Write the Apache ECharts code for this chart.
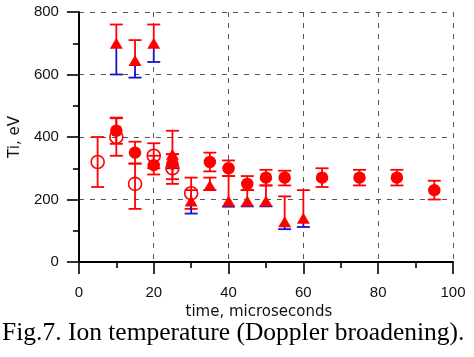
<!DOCTYPE html>
<html><head><meta charset="utf-8">
<script src="https://cdn.jsdelivr.net/npm/echarts@6/dist/echarts.min.js"></script>
<style>html,body{margin:0;padding:0;background:#fff}#c{width:474px;height:357px}</style>
</head><body><div id="c"></div>
<script>
// x-axis / y-axis ticks
const xTicks = [0, 20, 40, 60, 80, 100];
const yTicks = [0, 200, 400, 600, 800];

// open circles
const openX = [5, 10, 15, 20, 25, 30];
const openY = [320, 400, 250, 340, 300, 220];
const openLow = [240, 340, 170, 300, 250, 170];
const openHigh = [400, 460, 315, 380, 345, 270];

// filled circles
const fillX = [10, 15, 20, 25, 35, 40, 45, 50, 55, 65, 75, 85, 95];
const fillY = [420, 350, 310, 315, 320, 300, 250, 270, 270, 270, 270, 270, 230];
const fillLow = [378, 315, 280, 265, 290, 275, 230, 245, 245, 240, 245, 245, 200];
const fillHigh = [462, 385, 340, 345, 350, 325, 275, 295, 292, 300, 295, 295, 260];

// filled triangles (red upper bar, blue lower bar)
const triX = [10, 15, 20, 25, 30, 35, 40, 45, 50, 55, 60];
const triY = [700, 645, 700, 345, 195, 245, 195, 195, 195, 129, 140];
const triLow = [600, 590, 640, 300, 155, 230, 177, 178, 178, 105, 112];
const triHigh = [760, 710, 760, 420, 230, 270, 275, 230, 245, 210, 230];

const RED = '#ff0000', BLUE = '#1414c8';

function errBar(xs, lows, highs, color, capLow, capHigh, z) {
  return {
    type: 'custom', z: z, silent: true,
    data: xs.map((x, i) => [x, lows[i], highs[i]]),
    encode: { x: 0, y: [1, 2] },
    renderItem(params, api) {
      const x = api.value(0);
      const lo = api.coord([x, api.value(1)]);
      const hi = api.coord([x, api.value(2)]);
      const hw = 6.5;
      const style = { stroke: color, lineWidth: 1.8, fill: null };
      const ch = [{ type: 'line', shape: { x1: lo[0], y1: lo[1], x2: hi[0], y2: hi[1] }, style }];
      if (capLow) ch.push({ type: 'line', shape: { x1: lo[0] - hw, y1: lo[1], x2: lo[0] + hw, y2: lo[1] }, style });
      if (capHigh) ch.push({ type: 'line', shape: { x1: hi[0] - hw, y1: hi[1], x2: hi[0] + hw, y2: hi[1] }, style });
      return { type: 'group', children: ch };
    }
  };
}

const chart = echarts.init(document.getElementById('c'), null, { renderer: 'canvas' });
const axisCommon = {
  axisLine: { show: true, lineStyle: { color: '#000', width: 2 } },
  axisTick: { show: true, length: 12, lineStyle: { color: '#000', width: 1.6 } },
  minorTick: { show: true, splitNumber: 2, length: 6, lineStyle: { color: '#000', width: 1.6 } },
  splitLine: { show: true, lineStyle: { color: '#555', width: 1, type: [5, 6] } },
  axisLabel: { color: '#111', fontSize: 15, fontFamily: 'Liberation Sans' },
  nameTextStyle: { color: '#111', fontSize: 15, fontFamily: 'DejaVu Sans' }
};
chart.setOption({
  animation: false,
  backgroundColor: '#fff',
  grid: { left: 77, right: 21, top: 12, bottom: 95, containLabel: false },
  xAxis: Object.assign({}, axisCommon, {
    type: 'value', min: xTicks[0], max: xTicks[xTicks.length - 1], interval: xTicks[1] - xTicks[0],
    name: 'time, microseconds', nameLocation: 'middle', nameGap: 40,
    nameTextStyle: Object.assign({}, axisCommon.nameTextStyle, { padding: [0, 14, 0, 0] }),
    axisLabel: Object.assign({}, axisCommon.axisLabel, { margin: 23 })
  }),
  yAxis: Object.assign({}, axisCommon, {
    type: 'value', min: yTicks[0], max: yTicks[yTicks.length - 1], interval: yTicks[1] - yTicks[0],
    name: 'Ti, eV', nameLocation: 'middle', nameGap: 50, nameRotate: 90,
    axisLabel: Object.assign({}, axisCommon.axisLabel, { margin: 20 })
  }),
  graphic: [{
    type: 'text', left: 2, top: 320,
    style: { text: 'Fig.7. Ion temperature (Doppler broadening).', fill: '#000',
      font: '25.5px "Liberation Serif"' }
  }],
  series: [
    errBar(openX, openLow, openHigh, RED, true, true, 2),
    errBar(fillX, fillLow, fillHigh, RED, true, true, 2),
    errBar(triX, triY, triHigh, RED, false, true, 2),
    errBar(triX, triLow, triY, BLUE, true, false, 3),
    { type: 'scatter', z: 4, symbol: 'circle', symbolSize: 13,
      data: openX.map((x, i) => [x, openY[i]]),
      itemStyle: { color: 'rgba(255,255,255,0)', borderColor: RED, borderWidth: 1.6, opacity: 1 } },
    { type: 'scatter', z: 5, symbol: 'circle', symbolSize: 12.5,
      data: fillX.map((x, i) => [x, fillY[i]]),
      itemStyle: { color: RED, opacity: 1 } },
    { type: 'scatter', z: 5, symbol: 'triangle', symbolSize: [13, 11],
      data: triX.map((x, i) => [x, triY[i]]),
      itemStyle: { color: RED, opacity: 1 } }
  ]
});
</script>
</body></html>
